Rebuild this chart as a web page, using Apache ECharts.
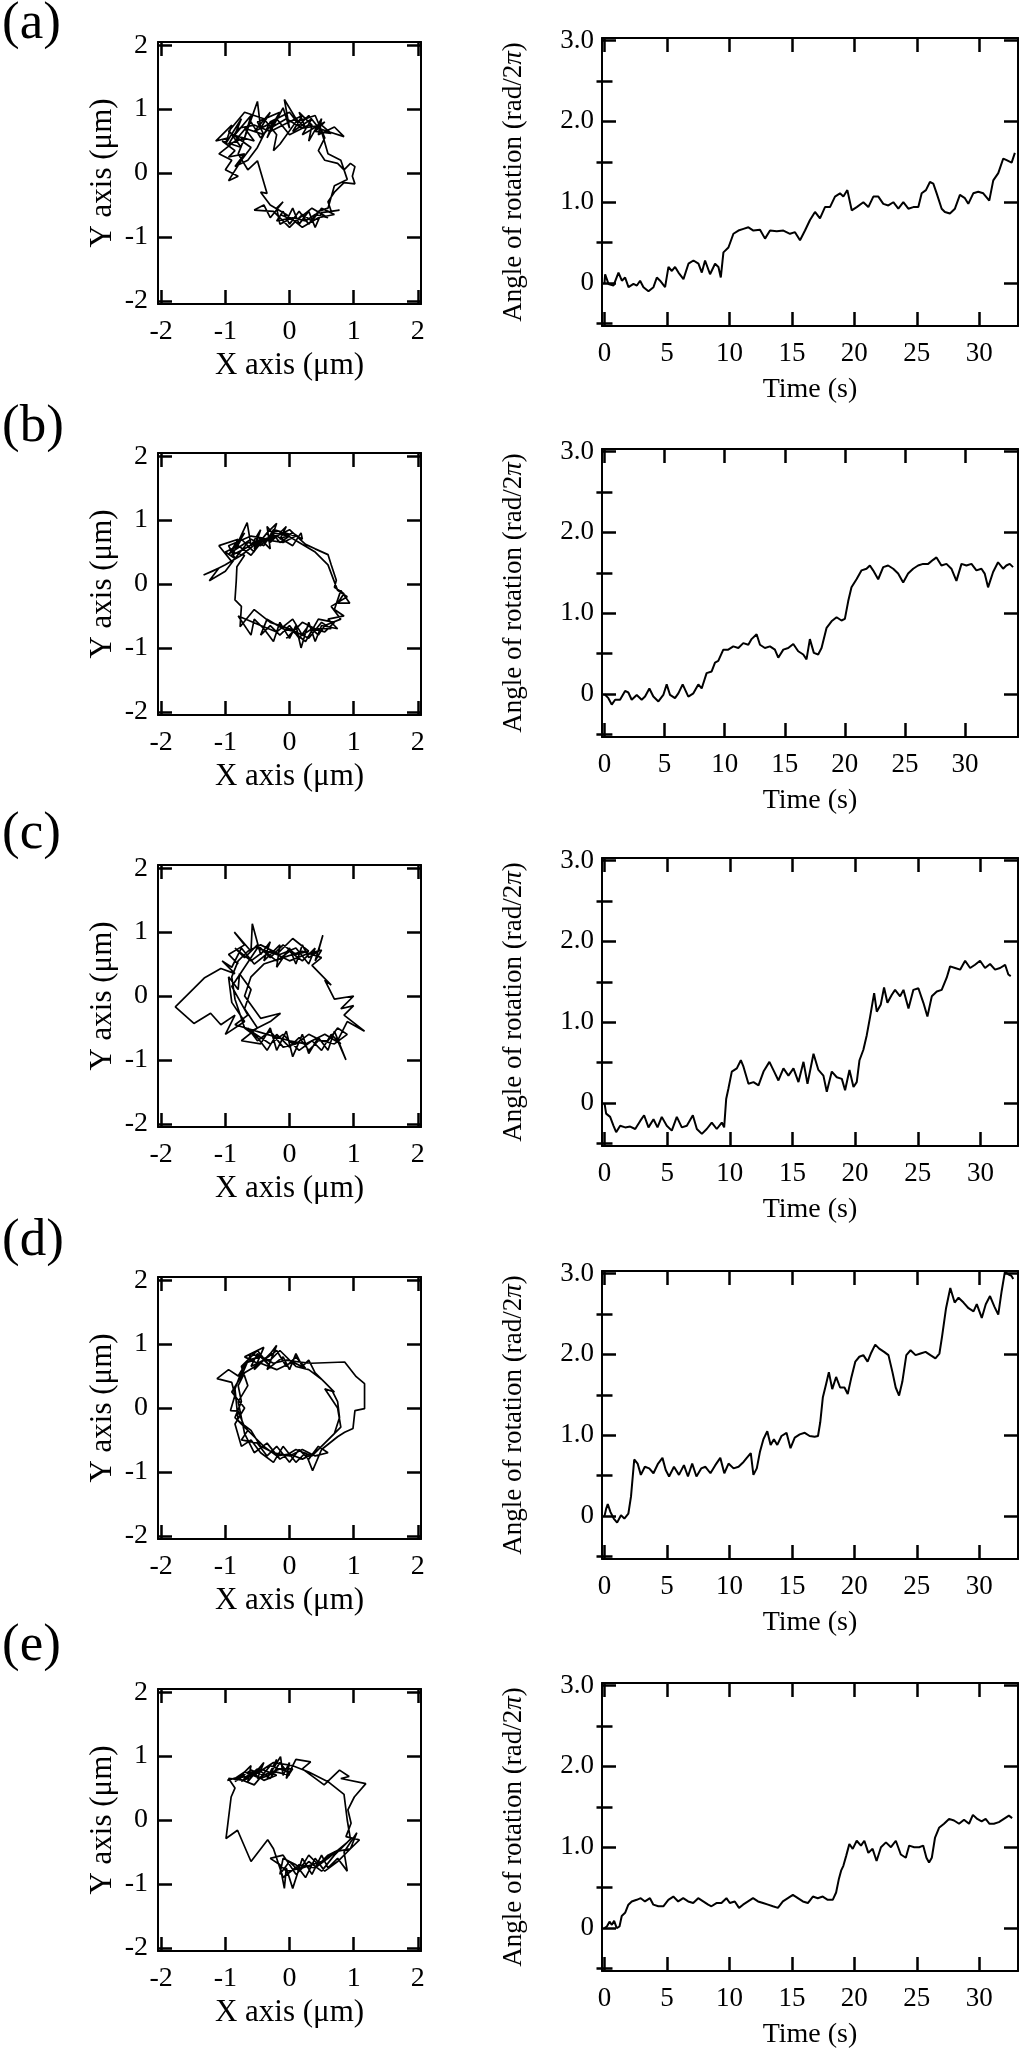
<!DOCTYPE html>
<html>
<head>
<meta charset="utf-8">
<script src="https://cdn.jsdelivr.net/npm/echarts@6/dist/echarts.min.js"></script>
<style>
html,body{margin:0;padding:0;background:#fff;}
#chart{width:1025px;height:2051px;}
</style>
</head>
<body>
<div id="chart"></div>
<script>
// ---------- data ----------
const panelLabels = ['(a)', '(b)', '(c)', '(d)', '(e)'];
const xyTicks = [-2, -1, 0, 1, 2];
const timeTicks = [0, 5, 10, 15, 20, 25, 30];
const angleMajorTicks = [0, 1, 2, 3];
const angleMinorTicks = [-0.5, 0.5, 1.5, 2.5];
const timeMax = [33.1, 34.4, 33.0, 33.1, 33.1];

const trajA = [[-0.95,0.55],[-1.15,0.5],[-0.9,0.75],[-1.0,0.45],[-0.75,0.85],[-0.85,0.6],[-0.6,0.9],[-0.7,0.55],[-0.5,1.12],[-0.45,0.7],[-0.3,0.95],[-0.55,0.65],[-0.25,0.8],[-0.35,0.55],[-0.1,1.02],[0.0,0.7],[-0.08,1.15],[0.1,0.85],[0.25,0.7],[0.15,0.95],[0.35,0.75],[0.3,0.5],[0.5,0.85],[0.45,0.6],[0.7,0.72],[0.85,0.57],[0.6,0.65],[0.3,0.75],[0.0,0.6],[-0.2,0.85],[-0.45,0.55],[-0.6,0.8],[-0.85,0.5],[-1.1,0.3],[-0.9,0.2],[-1.0,0.05],[-0.8,-0.05],[-0.95,-0.12],[-0.75,0.2],[-0.6,0.4],[-0.95,0.65],[-0.7,0.95],[-0.4,0.85],[-0.2,0.6],[-0.25,0.35],[-0.15,0.45],[0.1,0.8],[0.4,0.9],[0.55,0.55],[0.45,0.35],[0.55,0.2],[0.75,0.15],[0.85,0.05],[0.95,0.15],[1.02,0.1],[0.98,-0.05],[1.02,-0.17],[0.85,-0.15],[0.7,-0.3],[0.6,-0.45],[0.65,-0.6],[0.78,-0.58],[0.5,-0.62],[0.4,-0.85],[0.3,-0.6],[0.15,-0.8],[0.05,-0.55],[-0.05,-0.75],[-0.15,-0.8],[-0.2,-0.55],[-0.1,-0.45],[-0.3,-0.7],[-0.4,-0.5],[-0.55,-0.58],[-0.25,-0.6],[0.0,-0.85],[0.2,-0.65],[0.35,-0.75],[0.5,-0.55],[0.7,-0.65],[0.45,-0.7],[0.2,-0.85],[-0.05,-0.65],[-0.3,-0.5],[-0.45,-0.3],[-0.35,-0.32],[-0.5,0.19],[-0.65,0.05],[-0.8,0.3],[-0.7,0.55],[-0.95,0.45],[-0.8,0.7],[-0.55,0.75],[-0.3,0.65],[-0.1,0.75],[0.2,0.9],[0.05,0.65],[0.35,0.85],[0.2,0.6],[0.55,0.8],[0.4,0.65],[0.65,0.62],[0.5,0.75],[0.2,0.7],[-0.05,0.85],[-0.3,0.7],[-0.15,0.95],[-0.5,0.8],[-0.4,0.6],[-0.7,0.7],[-0.55,0.5],[-0.9,0.6],[-0.75,0.4],[-1.05,0.5],[-0.85,0.35],[-0.95,0.25],[-0.7,0.3],[-0.85,0.1],[-0.65,0.2],[-0.5,0.4],[-0.3,0.8],[0.0,0.95],[0.15,0.75],[0.3,0.9],[0.5,0.65],[0.6,0.3],[0.8,0.2],[0.9,-0.1],[0.7,-0.2],[0.6,-0.55],[0.45,-0.6],[0.3,-0.8],[0.15,-0.6],[0.0,-0.8],[-0.1,-0.6],[-0.2,-0.75],[0.05,-0.7],[0.25,-0.75],[0.4,-0.65],[0.6,-0.7],[0.35,-0.55],[0.1,-0.75],[-0.15,-0.65]];
const trajB = [[-0.9,0.35],[-1.1,0.6],[-0.8,0.7],[-0.95,0.45],[-0.7,0.8],[-0.85,0.55],[-0.66,0.96],[-0.6,0.6],[-0.45,0.85],[-0.55,0.55],[-0.35,0.8],[-0.2,0.95],[-0.3,0.65],[-0.05,0.9],[-0.15,0.7],[0.05,0.8],[0.2,0.7],[0.18,0.8],[0.05,0.6],[-0.2,0.75],[-0.5,0.65],[-0.75,0.45],[-1.0,0.3],[-1.2,0.2],[-1.34,0.14],[-1.1,0.25],[-1.25,0.05],[-1.0,0.2],[-0.85,0.4],[-0.95,0.6],[-0.6,0.75],[-0.3,0.7],[0.0,0.85],[0.25,0.62],[0.4,0.55],[0.6,0.46],[0.65,0.3],[0.73,0.06],[0.7,-0.05],[0.85,-0.15],[0.75,-0.3],[0.94,-0.3],[0.8,-0.1],[0.7,-0.4],[0.85,-0.5],[0.6,-0.55],[0.75,-0.7],[0.5,-0.65],[0.4,-0.9],[0.3,-0.6],[0.18,-1.0],[0.1,-0.65],[0.0,-0.85],[-0.15,-0.6],[-0.25,-0.9],[-0.4,-0.7],[-0.55,-0.55],[-0.6,-0.8],[-0.8,-0.5],[-0.45,-0.65],[-0.2,-0.75],[0.05,-0.55],[0.2,-0.8],[0.35,-0.7],[0.55,-0.75],[0.7,-0.6],[0.45,-0.55],[0.25,-0.9],[0.0,-0.7],[-0.3,-0.6],[-0.55,-0.4],[-0.77,-0.67],[-0.75,-0.35],[-0.85,-0.25],[-0.83,0.05],[-0.82,0.27],[-0.7,0.45],[-0.9,0.5],[-0.6,0.7],[-0.4,0.6],[-0.25,0.85],[0.1,0.75],[-0.1,0.65],[-0.45,0.7],[-0.7,0.55],[-0.9,0.45],[-0.75,0.7],[-0.55,0.5],[-0.5,0.75],[-0.3,0.55],[-0.35,0.9],[-0.15,0.65],[0.0,0.75],[-0.25,0.8],[-0.45,0.6],[-0.65,0.65],[-0.85,0.4],[-1.0,0.5],[-0.8,0.6],[-0.6,0.45],[-0.4,0.7],[-0.1,0.8],[0.15,0.65],[0.4,0.5],[0.6,0.3],[0.75,-0.1],[0.9,-0.2],[0.65,-0.35],[0.8,-0.55],[0.55,-0.65],[0.45,-0.8],[0.3,-0.65],[0.15,-0.85],[0.0,-0.65],[-0.15,-0.8],[-0.3,-0.65],[-0.45,-0.8],[-0.35,-0.55],[-0.1,-0.7],[0.1,-0.75],[0.3,-0.85],[0.5,-0.6],[0.65,-0.7],[0.4,-0.7],[0.2,-0.6],[-0.05,-0.85]];
const trajC = [[-0.8,0.5],[-0.95,0.65],[-0.7,0.8],[-0.86,1.0],[-0.6,0.7],[-0.58,1.13],[-0.45,0.65],[-0.3,0.85],[-0.4,0.55],[-0.15,0.8],[-0.2,0.45],[0.0,0.75],[0.1,0.5],[0.2,0.8],[0.3,0.6],[0.45,0.7],[0.52,0.95],[0.4,0.55],[0.5,0.72],[0.25,0.65],[0.0,0.55],[-0.3,0.7],[-0.55,0.5],[-0.75,0.75],[-0.9,0.45],[-1.05,0.55],[-0.85,0.35],[-1.07,0.43],[-1.33,0.28],[-1.78,-0.17],[-1.49,-0.43],[-1.23,-0.27],[-1.07,-0.45],[-0.85,-0.3],[-1.0,-0.6],[-0.7,-0.4],[-0.9,-0.1],[-0.95,0.3],[-0.8,0.1],[-0.78,0.35],[-0.6,0.1],[-0.7,-0.2],[-0.5,-0.5],[-0.75,-0.7],[-0.45,-0.75],[-0.3,-0.5],[-0.2,-0.85],[-0.05,-0.55],[0.05,-0.95],[0.2,-0.6],[0.3,-0.9],[0.45,-0.65],[0.6,-0.85],[0.7,-0.55],[0.88,-1.0],[0.75,-0.7],[0.9,-0.4],[1.17,-0.55],[0.85,-0.3],[1.0,-0.15],[0.8,-0.2],[1.0,0.0],[0.7,-0.05],[0.55,0.25],[0.65,0.17],[0.35,0.48],[0.5,0.6],[0.2,0.7],[-0.1,0.6],[-0.4,0.5],[-0.6,0.3],[-0.7,0.0],[-0.45,-0.35],[-0.14,-0.27],[-0.3,-0.4],[-0.6,-0.55],[-0.3,-0.75],[-0.1,-0.6],[0.15,-0.85],[0.35,-0.7],[0.5,-0.85],[0.65,-0.6],[0.8,-0.75],[0.55,-0.6],[0.25,-0.75],[0.0,-0.7],[-0.35,-0.6],[-0.85,-0.45],[-0.65,-0.3],[-0.9,0.15],[-0.7,0.45],[-0.5,0.75],[-0.2,0.65],[0.05,0.9],[0.3,0.7],[0.1,0.65],[-0.1,0.8],[-0.3,0.6],[-0.5,0.8],[-0.7,0.6],[-0.85,0.75],[-0.6,0.55],[-0.4,0.7],[-0.2,0.55],[0.0,0.7],[0.2,0.55],[0.4,0.75],[0.3,0.5],[0.1,0.75],[-0.15,0.65],[-0.45,0.8],[-0.65,0.7],[-0.8,0.55],[-0.9,0.3],[-0.85,-0.05],[-0.7,-0.5],[-0.5,-0.65],[-0.35,-0.85],[-0.2,-0.6],[0.0,-0.8],[0.15,-0.65],[0.3,-0.85],[0.45,-0.7],[0.6,-0.7],[0.75,-0.5],[0.9,-0.6],[0.7,-0.75],[0.5,-0.7],[0.3,-0.6],[0.1,-0.75],[-0.1,-0.8],[-0.3,-0.55],[-0.5,-0.7],[-0.65,-0.5]];
const trajD = [[-0.5,0.7],[-0.7,0.8],[-0.4,0.95],[-0.55,0.6],[-0.3,0.85],[-0.2,0.98],[-0.35,0.6],[-0.1,0.8],[0.0,0.6],[0.1,0.85],[0.2,0.65],[0.3,0.75],[0.4,0.55],[0.55,0.4],[0.65,0.3],[0.75,0.1],[0.78,-0.15],[0.7,-0.4],[0.55,-0.55],[0.4,-0.7],[0.2,-0.8],[0.0,-0.72],[-0.2,-0.75],[-0.4,-0.6],[-0.55,-0.45],[-0.7,-0.3],[-0.8,-0.05],[-0.92,-0.04],[-0.85,0.2],[-0.9,0.4],[-1.13,0.46],[-0.95,0.6],[-0.8,0.5],[-0.65,0.75],[-0.45,0.8],[-0.25,0.7],[-0.05,0.75],[0.15,0.72],[0.34,0.7],[0.86,0.72],[1.04,0.49],[1.17,0.38],[1.17,-0.01],[1.02,-0.04],[0.99,-0.32],[0.86,-0.38],[0.75,-0.45],[0.5,-0.65],[0.36,-0.98],[0.25,-0.7],[0.1,-0.85],[-0.1,-0.6],[-0.25,-0.85],[-0.45,-0.7],[-0.6,-0.5],[-0.75,-0.6],[-0.85,-0.25],[-0.7,0.0],[-0.9,0.25],[-0.75,0.5],[-0.6,0.85],[-0.3,0.75],[-0.15,0.9],[0.1,0.65],[0.3,0.6],[0.5,0.45],[0.7,0.25],[0.55,0.3],[0.75,0.0],[0.8,-0.3],[0.6,-0.5],[0.35,-0.75],[0.1,-0.65],[-0.15,-0.8],[-0.35,-0.55],[-0.55,-0.7],[-0.7,-0.4],[-0.8,0.1],[-0.65,0.35],[-0.75,0.65],[-0.5,0.9],[-0.3,0.65],[-0.5,0.85],[-0.6,0.65],[-0.4,0.75],[-0.2,0.9],[-0.05,0.65],[0.1,0.8],[0.25,0.62],[0.05,0.72],[-0.2,0.6],[-0.45,0.7],[-0.7,0.55],[-0.8,0.35],[-0.75,0.1],[-0.85,-0.15],[-0.65,-0.35],[-0.75,-0.5],[-0.5,-0.55],[-0.35,-0.75],[-0.2,-0.6],[0.0,-0.85],[0.15,-0.65],[0.3,-0.8],[0.45,-0.6],[0.6,-0.7],[0.4,-0.75],[0.2,-0.65],[0.0,-0.75],[-0.25,-0.7],[-0.45,-0.6],[-0.6,-0.35],[-0.8,-0.2],[-0.85,0.3],[-0.7,0.7],[-0.55,0.75]];
const trajE = [[-0.97,0.62],[-0.7,0.7],[-0.85,0.6],[-0.6,0.85],[-0.65,0.6],[-0.4,0.9],[-0.5,0.65],[-0.3,0.75],[-0.2,0.95],[-0.35,0.65],[-0.14,0.99],[-0.1,0.7],[0.0,0.9],[-0.05,0.65],[0.05,0.8],[-0.15,0.8],[-0.4,0.7],[-0.6,0.78],[-0.8,0.65],[-0.55,0.55],[-0.3,0.85],[0.0,0.75],[0.1,0.95],[0.33,0.91],[0.2,0.8],[0.54,0.55],[0.78,0.78],[0.93,0.68],[0.8,0.65],[1.19,0.57],[1.01,0.36],[0.91,0.16],[0.96,-0.05],[0.88,-0.26],[1.09,-0.31],[0.95,-0.45],[1.05,-0.2],[0.85,-0.5],[0.9,-0.8],[0.75,-0.6],[0.6,-0.75],[0.5,-0.55],[0.35,-0.85],[0.2,-0.6],[0.05,-1.07],[-0.05,-0.75],[-0.08,-1.07],[-0.15,-0.7],[-0.3,-0.6],[-0.1,-0.55],[0.1,-0.85],[0.3,-0.65],[0.5,-0.8],[0.7,-0.55],[0.9,-0.35],[0.6,-0.6],[0.4,-0.75],[0.15,-0.7],[-0.1,-0.9],[-0.25,-0.45],[-0.34,-0.31],[-0.6,-0.65],[-0.81,-0.16],[-0.99,-0.29],[-0.96,-0.05],[-0.91,0.36],[-0.85,0.5],[-0.95,0.65],[-0.7,0.62],[-0.45,0.8],[-0.2,0.7],[-0.4,0.62],[-0.6,0.75],[-0.75,0.6],[-0.5,0.8],[-0.3,0.65],[-0.15,0.9],[0.0,0.7],[-0.2,0.75],[-0.45,0.65],[-0.7,0.75],[-0.85,0.65],[-0.55,0.7],[-0.25,0.9],[0.05,0.85],[0.3,0.75],[0.6,0.6],[0.85,0.4],[0.9,0.0],[0.95,-0.3],[0.8,-0.45],[0.6,-0.55],[0.45,-0.7],[0.3,-0.55],[0.15,-0.8],[0.0,-0.65],[-0.15,-0.85],[-0.1,-0.6],[0.1,-0.7],[0.25,-0.9],[0.4,-0.6],[0.55,-0.8],[0.75,-0.65],[0.95,-0.45],[0.7,-0.5],[0.5,-0.65],[0.2,-0.75],[-0.05,-0.8],[-0.2,-0.65]];

const angleA = [[0,0],[0.05,0.11],[0.32,-0.01],[0.72,-0.03],[1.12,0.13],[1.39,0.03],[1.65,0.07],[1.92,-0.05],[2.32,-0.01],[2.59,-0.03],[2.85,0.03],[3.12,-0.05],[3.52,-0.10],[3.92,-0.05],[4.19,0.07],[4.45,0.03],[4.85,-0.05],[5.12,0.20],[5.39,0.15],[5.65,0.20],[5.92,0.13],[6.32,0.05],[6.72,0.24],[7.12,0.28],[7.52,0.24],[7.79,0.13],[8.05,0.28],[8.45,0.11],[8.85,0.24],[9.12,0.20],[9.31,0.07],[9.52,0.38],[9.92,0.44],[10.32,0.61],[10.72,0.65],[11.12,0.67],[11.52,0.69],[11.92,0.65],[12.45,0.66],[12.85,0.55],[13.25,0.65],[13.79,0.64],[14.32,0.65],[14.85,0.61],[15.25,0.63],[15.65,0.53],[16.05,0.65],[16.45,0.78],[16.85,0.88],[17.25,0.80],[17.65,0.94],[18.05,0.94],[18.45,1.07],[18.85,1.11],[19.12,1.07],[19.44,1.15],[19.79,0.90],[20.19,0.94],[20.72,1.00],[21.12,0.94],[21.52,1.07],[21.92,1.07],[22.32,0.98],[22.72,0.96],[23.12,1.00],[23.52,0.92],[23.92,1.00],[24.32,0.92],[24.72,0.94],[25.12,0.94],[25.39,1.11],[25.73,1.15],[26.05,1.25],[26.32,1.23],[26.59,1.11],[26.99,0.92],[27.25,0.88],[27.65,0.86],[28.05,0.92],[28.45,1.09],[28.85,1.05],[29.12,0.98],[29.52,1.11],[29.92,1.13],[30.32,1.11],[30.80,1.02],[31.12,1.27],[31.52,1.36],[31.92,1.54],[32.19,1.52],[32.59,1.49],[32.85,1.61]];
const angleB = [[0,0],[0.33,-0.05],[0.61,-0.13],[0.89,-0.07],[1.30,-0.07],[1.72,0.04],[1.99,0.02],[2.27,-0.07],[2.69,-0.01],[3.10,-0.07],[3.38,-0.03],[3.74,0.07],[4.07,-0.03],[4.49,-0.09],[4.90,-0.01],[5.18,0.12],[5.46,-0.01],[5.87,-0.05],[6.15,0.01],[6.51,0.12],[6.98,-0.03],[7.40,0.01],[7.81,0.12],[8.09,0.07],[8.50,0.26],[8.92,0.28],[9.20,0.39],[9.47,0.41],[9.89,0.55],[10.30,0.55],[10.72,0.59],[11.14,0.57],[11.55,0.63],[11.97,0.61],[12.24,0.68],[12.66,0.74],[12.94,0.61],[13.35,0.57],[13.77,0.59],[14.18,0.55],[14.46,0.45],[14.88,0.55],[15.29,0.57],[15.71,0.62],[16.12,0.53],[16.54,0.49],[16.81,0.43],[17.09,0.68],[17.42,0.51],[17.78,0.49],[18.06,0.57],[18.48,0.82],[18.89,0.90],[19.31,0.95],[19.72,0.91],[20.00,0.93],[20.28,1.15],[20.55,1.32],[20.97,1.42],[21.39,1.53],[21.80,1.55],[22.08,1.59],[22.35,1.53],[22.77,1.42],[23.19,1.57],[23.60,1.59],[24.02,1.55],[24.43,1.49],[24.85,1.38],[25.26,1.49],[25.68,1.55],[26.09,1.59],[26.51,1.61],[26.93,1.61],[27.34,1.66],[27.62,1.69],[28.03,1.59],[28.45,1.61],[28.86,1.55],[29.28,1.40],[29.70,1.61],[30.11,1.59],[30.53,1.61],[30.94,1.53],[31.36,1.55],[31.63,1.49],[31.91,1.32],[32.33,1.51],[32.74,1.63],[33.16,1.55],[33.43,1.59],[33.71,1.61],[33.99,1.57]];
const angleC = [[0,0],[0.13,-0.13],[0.45,-0.17],[0.72,-0.28],[0.93,-0.36],[1.25,-0.28],[1.65,-0.30],[2.05,-0.29],[2.45,-0.32],[2.85,-0.22],[3.16,-0.15],[3.51,-0.30],[3.91,-0.20],[4.23,-0.30],[4.57,-0.17],[4.97,-0.28],[5.37,-0.34],[5.77,-0.17],[6.17,-0.30],[6.57,-0.28],[7.05,-0.15],[7.37,-0.32],[7.77,-0.38],[8.16,-0.32],[8.56,-0.24],[8.96,-0.32],[9.36,-0.24],[9.55,-0.30],[9.71,0.05],[9.89,0.18],[10.16,0.39],[10.56,0.43],[10.88,0.53],[11.09,0.45],[11.49,0.24],[11.89,0.26],[12.29,0.22],[12.69,0.39],[13.16,0.51],[13.54,0.39],[13.88,0.28],[14.28,0.43],[14.68,0.34],[15.08,0.43],[15.48,0.26],[15.88,0.51],[16.20,0.24],[16.68,0.61],[17.07,0.41],[17.47,0.34],[17.74,0.14],[18.14,0.39],[18.54,0.32],[18.94,0.30],[19.20,0.16],[19.55,0.41],[19.87,0.20],[20.13,0.26],[20.35,0.53],[20.66,0.66],[20.93,0.84],[21.20,1.07],[21.52,1.36],[21.73,1.13],[22.05,1.22],[22.31,1.43],[22.58,1.24],[22.93,1.34],[23.19,1.40],[23.59,1.32],[23.86,1.40],[24.26,1.17],[24.65,1.40],[25.05,1.42],[25.45,1.24],[25.77,1.07],[26.12,1.32],[26.52,1.38],[26.91,1.40],[27.31,1.55],[27.58,1.69],[27.98,1.67],[28.38,1.65],[28.78,1.76],[29.18,1.67],[29.57,1.71],[29.97,1.76],[30.37,1.67],[30.77,1.72],[31.17,1.65],[31.57,1.67],[31.97,1.71],[32.23,1.59],[32.42,1.57]];
const angleD = [[0,0],[0.13,0.09],[0.26,0.15],[0.48,0.05],[0.74,-0.03],[1.01,-0.08],[1.32,0.01],[1.59,-0.03],[1.91,0.03],[2.12,0.24],[2.38,0.70],[2.65,0.65],[2.91,0.51],[3.23,0.61],[3.58,0.59],[3.92,0.53],[4.29,0.65],[4.64,0.72],[4.90,0.57],[5.17,0.49],[5.56,0.61],[5.96,0.51],[6.36,0.63],[6.68,0.49],[7.02,0.65],[7.36,0.49],[7.74,0.59],[8.08,0.61],[8.48,0.53],[8.87,0.63],[9.27,0.72],[9.59,0.53],[9.93,0.65],[10.33,0.59],[10.73,0.61],[11.13,0.67],[11.39,0.72],[11.71,0.78],[11.92,0.51],[12.19,0.59],[12.45,0.80],[12.72,0.95],[13.03,1.05],[13.30,0.88],[13.56,0.95],[13.83,0.88],[14.17,0.99],[14.57,1.03],[14.89,0.84],[15.23,0.97],[15.63,1.01],[16.03,1.03],[16.42,0.99],[16.82,0.98],[17.09,0.99],[17.27,1.16],[17.48,1.47],[17.75,1.64],[17.96,1.78],[18.23,1.57],[18.54,1.72],[18.86,1.59],[19.21,1.59],[19.47,1.51],[19.74,1.70],[20.08,1.91],[20.40,1.97],[20.72,1.99],[21.06,1.91],[21.32,2.01],[21.67,2.12],[21.99,2.07],[22.38,2.03],[22.73,1.99],[23.05,1.78],[23.31,1.59],[23.58,1.49],[23.84,1.66],[24.16,1.99],[24.50,2.05],[24.90,1.99],[25.30,2.01],[25.70,2.03],[26.09,1.99],[26.49,1.95],[26.81,2.01],[27.02,2.22],[27.34,2.57],[27.68,2.82],[28.03,2.64],[28.34,2.70],[28.74,2.64],[29.14,2.57],[29.54,2.53],[29.80,2.62],[30.20,2.45],[30.52,2.62],[30.86,2.72],[31.21,2.59],[31.52,2.49],[31.79,2.78],[32.05,3.02],[32.32,2.99],[32.58,2.97],[32.72,2.93]];
const angleE = [[0,0],[0.19,0.02],[0.40,0.08],[0.59,0.04],[0.77,0.09],[0.98,0],[1.20,0.02],[1.38,0.15],[1.65,0.19],[1.91,0.29],[2.18,0.33],[2.58,0.35],[2.90,0.37],[3.24,0.33],[3.64,0.37],[3.91,0.29],[4.31,0.27],[4.71,0.27],[5.11,0.35],[5.51,0.39],[5.90,0.33],[6.30,0.37],[6.70,0.33],[7.10,0.31],[7.50,0.37],[7.90,0.33],[8.30,0.29],[8.56,0.27],[8.96,0.31],[9.36,0.31],[9.76,0.37],[10.03,0.31],[10.43,0.33],[10.77,0.25],[11.09,0.29],[11.49,0.33],[11.89,0.37],[12.29,0.33],[12.69,0.31],[13.09,0.29],[13.48,0.27],[13.88,0.25],[14.28,0.33],[14.68,0.37],[15.08,0.41],[15.48,0.37],[15.88,0.33],[16.28,0.31],[16.68,0.39],[17.07,0.37],[17.47,0.39],[17.87,0.35],[18.27,0.35],[18.54,0.44],[18.75,0.60],[18.94,0.71],[19.12,0.77],[19.34,0.89],[19.60,1.04],[19.87,0.98],[20.19,1.08],[20.53,1.02],[20.80,1.08],[21.12,0.93],[21.46,0.98],[21.78,0.83],[22.13,1.00],[22.53,1.06],[22.93,1.00],[23.32,1.08],[23.72,0.91],[24.12,0.87],[24.39,1.02],[24.79,1.00],[25.19,1.00],[25.51,1.02],[25.77,0.87],[25.98,0.81],[26.20,0.87],[26.46,1.12],[26.78,1.24],[27.18,1.29],[27.58,1.35],[27.98,1.33],[28.38,1.29],[28.78,1.34],[29.18,1.29],[29.49,1.40],[29.84,1.35],[30.19,1.32],[30.51,1.35],[30.82,1.29],[31.17,1.29],[31.57,1.31],[31.97,1.35],[32.37,1.39],[32.63,1.36]];

const trajectories = [trajA, trajB, trajC, trajD, trajE];
const angles = [angleA, angleB, angleC, angleD, angleE];

// ---------- layout (pixels) ----------
const FONT = 'Liberation Serif';
const leftBoxTops = [42, 453, 865, 1277, 1689];
const rightBoxTops = [38, 449, 858, 1271, 1683];
const labelCenters = [28, 431, 838, 1245, 1650];
const LB = {left: 158, width: 263, height: 262};
const RB = {left: 602, width: 416, height: 288};

const chart = echarts.init(document.getElementById('chart'), null, {renderer: 'canvas'});

const grids = [], xAxes = [], yAxes = [], series = [], graphics = [];
const lineW = 2, tickW = 2.5;
const txt = (size) => ({fontFamily: FONT, fontSize: size, color: '#000'});

for (let r = 0; r < 5; r++) {
  // ---- left: trajectory ----
  const gL = grids.length;
  grids.push({left: LB.left, top: leftBoxTops[r], width: LB.width, height: LB.height, containLabel: false, outerBoundsMode: 'none'});
  const xb = xAxes.length;
  xAxes.push({
    gridIndex: gL, type: 'value', position: 'bottom', min: -2.05, max: 2.05,
    axisLine: {show: true, onZero: false, lineStyle: {color: '#000', width: lineW}},
    axisTick: {show: true, inside: true, length: 14, customValues: xyTicks, lineStyle: {color: '#000', width: tickW}},
    axisLabel: {show: true, customValues: xyTicks, margin: 14, formatter: v => String(v), ...txt(28)},
    splitLine: {show: false},
    name: 'X axis (μm)', nameLocation: 'middle', nameGap: 46, nameTextStyle: txt(31)
  });
  xAxes.push({
    gridIndex: gL, type: 'value', position: 'top', min: -2.05, max: 2.05,
    axisLine: {show: true, onZero: false, lineStyle: {color: '#000', width: lineW}},
    axisTick: {show: true, inside: true, length: 14, customValues: xyTicks, lineStyle: {color: '#000', width: tickW}},
    axisLabel: {show: false}, splitLine: {show: false}
  });
  const yb = yAxes.length;
  yAxes.push({
    gridIndex: gL, type: 'value', position: 'left', min: -2.05, max: 2.05,
    axisLine: {show: true, onZero: false, lineStyle: {color: '#000', width: lineW}},
    axisTick: {show: true, inside: true, length: 14, customValues: xyTicks, lineStyle: {color: '#000', width: tickW}},
    axisLabel: {show: true, customValues: xyTicks, margin: 10, formatter: v => String(v), ...txt(28)},
    splitLine: {show: false},
    name: 'Y axis (μm)', nameLocation: 'middle', nameGap: 40, nameTextStyle: txt(31)
  });
  yAxes.push({
    gridIndex: gL, type: 'value', position: 'right', min: -2.05, max: 2.05,
    axisLine: {show: true, onZero: false, lineStyle: {color: '#000', width: lineW}},
    axisTick: {show: true, inside: true, length: 14, customValues: xyTicks, lineStyle: {color: '#000', width: tickW}},
    axisLabel: {show: false}, splitLine: {show: false}
  });
  series.push({
    type: 'line', xAxisIndex: xb, yAxisIndex: yb, data: trajectories[r],
    showSymbol: false, symbol: 'none', silent: true, animation: false,
    lineStyle: {color: '#000', width: 1.7}
  });

  // ---- right: angle vs time ----
  const gR = grids.length;
  grids.push({left: RB.left, top: rightBoxTops[r], width: RB.width, height: RB.height, containLabel: false, outerBoundsMode: 'none'});
  const xr = xAxes.length;
  xAxes.push({
    gridIndex: gR, type: 'value', position: 'bottom', min: -0.2, max: timeMax[r],
    axisLine: {show: true, onZero: false, lineStyle: {color: '#000', width: lineW}},
    axisTick: {show: true, inside: true, length: 14, customValues: timeTicks, lineStyle: {color: '#000', width: tickW}},
    axisLabel: {show: true, customValues: timeTicks, margin: 14, formatter: v => String(v), ...txt(27)},
    splitLine: {show: false},
    name: 'Time (s)', nameLocation: 'middle', nameGap: 50, nameTextStyle: txt(28)
  });
  xAxes.push({
    gridIndex: gR, type: 'value', position: 'top', min: -0.2, max: timeMax[r],
    axisLine: {show: true, onZero: false, lineStyle: {color: '#000', width: lineW}},
    axisTick: {show: true, inside: true, length: 14, customValues: timeTicks, lineStyle: {color: '#000', width: tickW}},
    axisLabel: {show: false}, splitLine: {show: false}
  });
  const yr = yAxes.length;
  yAxes.push({
    gridIndex: gR, type: 'value', position: 'left', min: -0.53, max: 3.03,
    axisLine: {show: true, onZero: false, lineStyle: {color: '#000', width: lineW}},
    axisTick: {show: true, inside: true, length: 14, customValues: angleMajorTicks, lineStyle: {color: '#000', width: tickW}},
    axisLabel: {show: true, customValues: angleMajorTicks, margin: 8, formatter: v => (v === 0 ? '0' : v.toFixed(1)), ...txt(27)},
    splitLine: {show: false},
    name: '{n|Angle of rotation (rad/2}{p|π}{n|)}', nameLocation: 'middle', nameGap: 75,
    nameTextStyle: Object.assign(txt(27), {rich: {n: txt(27), p: Object.assign(txt(27), {fontStyle: 'italic'})}})
  });
  yAxes.push({
    gridIndex: gR, type: 'value', position: 'left', min: -0.53, max: 3.03,
    axisLine: {show: false},
    axisTick: {show: true, inside: true, length: 8, customValues: angleMinorTicks, lineStyle: {color: '#000', width: tickW}},
    axisLabel: {show: false}, splitLine: {show: false}
  });
  yAxes.push({
    gridIndex: gR, type: 'value', position: 'right', min: -0.53, max: 3.03,
    axisLine: {show: true, onZero: false, lineStyle: {color: '#000', width: lineW}},
    axisTick: {show: true, inside: true, length: 14, customValues: angleMajorTicks, lineStyle: {color: '#000', width: tickW}},
    axisLabel: {show: false}, splitLine: {show: false}
  });
  yAxes.push({
    gridIndex: gR, type: 'value', position: 'right', min: -0.53, max: 3.03,
    axisLine: {show: false},
    axisTick: {show: true, inside: true, length: 8, customValues: angleMinorTicks, lineStyle: {color: '#000', width: tickW}},
    axisLabel: {show: false}, splitLine: {show: false}
  });
  series.push({
    type: 'line', xAxisIndex: xr, yAxisIndex: yr, data: angles[r],
    showSymbol: false, symbol: 'none', silent: true, animation: false,
    lineStyle: {color: '#000', width: 2}
  });

  graphics.push({
    type: 'text', left: 2, top: labelCenters[r] - 30,
    style: {text: panelLabels[r], font: '53px "Liberation Serif"', fill: '#000'}
  });
}

chart.setOption({
  backgroundColor: '#fff',
  animation: false,
  grid: grids,
  xAxis: xAxes,
  yAxis: yAxes,
  series: series,
  graphic: graphics
});
</script>
</body>
</html>
